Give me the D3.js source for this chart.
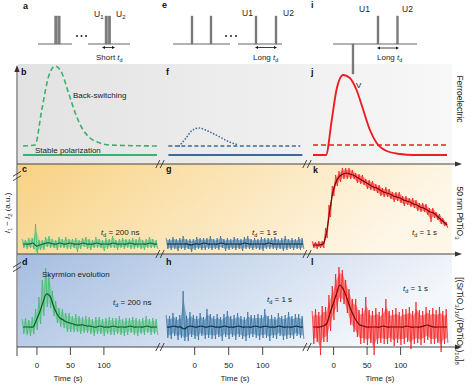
<!DOCTYPE html>
<html><head><meta charset="utf-8">
<script src="https://cdn.jsdelivr.net/npm/d3@7"></script>
<style>body{margin:0;background:#fff;} svg{display:block;font-family:"Liberation Sans",Arial,sans-serif;}</style>
</head><body><svg id="c" width="474" height="384"></svg>
<script>
// ---------- DATA ----------
const tickValues = [0, 50, 100];
const tickLabels = ["0", "50", "100"];
const rowLabels = ["Ferroelectric", "50 nm PbTiO3", "[(SrTiO3)16/(PbTiO3)16]8"];

// row 1 schematic curves
const bDashT = [-20, -2, 8, 18, 28, 38, 48, 58, 68, 80, 95, 110, 180];
const bDashV = [18, 19, 54, 87, 98, 91, 71, 51, 36, 26, 21, 19, 18];
const bSolidT = [-20, 180];
const bSolidV = [9, 9];
const fDashT = [-38, 156];
const fDashV = [18, 18];
const fSolidT = [-38, 159];
const fSolidV = [9, 9];
const fDotT = [-22, -12, -4, 7, 20, 35, 52, 66];
const fDotV = [18, 26, 33, 36, 33, 28, 22, 19];
const jT = [-30, -10.6, -2, 5, 15, 25, 35, 45, 55, 65, 80, 100, 119, 170];
const jV = [9, 9, 44, 74, 89, 86, 74, 54, 34, 21, 13, 10, 9, 9];
const jDashT = [-30, 170];
const jDashV = [19, 19];

// time grids
const time1 = [-20,-15,-10,-5,0,5,10,15,20,25,30,35,40,45,50,55,60,65,70,75,80,85,90,95,100,105,110,115,120,125,130,135,140,145,150,155,160,165,170,175,180];
const time2 = [-40,-35,-30,-25,-20,-15,-10,-5,0,5,10,15,20,25,30,35,40,45,50,55,60,65,70,75,80,85,90,95,100,105,110,115,120,125,130,135,140,145,150,155,160];
const time3 = [-30,-25,-20,-15,-10,-5,0,5,10,15,20,25,30,35,40,45,50,55,60,65,70,75,80,85,90,95,100,105,110,115,120,125,130,135,140,145,150,155,160,165,170];

// row 2 (50 nm PbTiO3)
const cMean = [10,10,10,11,8,9,10,11,11,10, 10,11,10,10,11,10,10,10,11,10, 10,10,11,10,10,10,10,11,10,10, 10,10,11,10,10,10,10,10,11,10, 10];
const cUp   = [5,4,6,5,22,5,4,6,7,5, 4,6,5,7,4,5,6,4,5,7, 5,4,6,5,4,6,5,7,4,5, 6,5,4,6,5,7,4,5,6,5, 4];
const cDn   = [4,5,4,6,9,5,6,4,5,4, 6,5,4,5,6,4,8,5,4,5, 6,4,5,4,7,5,4,5,6,4, 5,4,6,5,4,5,6,4,5,4, 5];
const gMean = [10,10,10,10,10,10,10,9,10,10, 10,11,10,10,10,10,11,10,10,10, 10,10,10,11,10,10,10,10,10,10, 11,10,10,10,10,10,10,10,10,10, 10];
const gUp   = [6,5,7,5,6,8,5,6,5,7, 6,5,6,8,5,6,7,5,6,5, 7,6,5,6,8,5,6,5,7,6, 5,6,7,5,6,8,5,6,5,7, 6];
const gDn   = [5,6,5,7,5,6,5,7,6,5, 6,7,5,6,5,6,5,7,6,5, 6,5,7,6,5,6,5,6,7,5, 6,5,6,5,7,6,5,6,5,6, 5];
const kMean = [9,9,9,10,21,43,63,73,78,80, 81,80,79,77,75,73,71,69,67,66, 64,62,61,60,58,57,56,54,53,52, 50,49,47,46,44,42,41,38,35,32, 29];
const kUp   = [4,3,4,3,5,6,5,6,5,6, 5,6,5,4,5,6,4,5,6,4, 5,4,6,5,4,5,6,4,5,4, 6,5,4,5,6,4,5,4,5,4, 3];
const kDn   = [3,4,3,4,5,6,5,5,6,5, 6,5,4,6,5,4,6,5,4,5, 6,5,4,5,6,4,5,6,4,5, 4,6,5,4,5,10,5,4,5,4, 3];

// row 3 (superlattice, skyrmion)
const dMean = [20,20,20,20,27,35,45,53,51,42, 34,29,27,25,24,23,22,22,22,21, 21,20,20,21,20,20,20,21,20,20, 20,20,21,20,20,20,20,21,20,20, 20];
const dUp   = [8,9,7,10,11,15,22,26,22,14, 12,10,11,9,10,8,11,9,8,10, 9,8,10,9,8,9,10,8,9,11, 8,9,8,10,9,8,9,10,8,9, 8];
const dDn   = [7,8,9,7,10,12,14,13,12,11, 10,9,8,10,9,8,7,9,8,7, 8,9,7,8,9,7,8,9,7,8, 9,8,7,8,9,7,8,7,8,7, 8];
const hMean = [20,20,21,20,20,18,20,21,20,20, 21,20,20,21,20,20,20,21,20,20, 20,21,20,20,20,20,21,20,20,21, 20,20,20,21,20,20,20,20,21,20, 20];
const hUp   = [12,11,13,10,12,38,11,14,12,11, 13,10,18,12,11,13,10,12,16,11, 12,13,11,10,15,12,11,13,12,17, 11,12,10,13,11,12,15,11,12,13, 11];
const hDn   = [11,12,10,13,11,12,14,11,12,13, 10,12,11,13,12,10,14,11,12,10, 13,11,12,14,11,10,12,13,11,12, 14,11,12,10,13,12,11,12,10,11, 12];
const lMean = [20,20,20,21,23,33,43,53,62,58, 50,40,32,26,22,21,20,20,20,20, 20,21,20,20,20,20,20,20,21,20, 20,20,20,21,22,21,20,20,20,20, 20];
const lUp   = [16,18,15,20,17,19,18,20,18,19, 17,18,16,22,15,18,30,17,16,19, 15,18,28,16,17,19,15,18,17,20, 16,25,17,15,18,16,19,17,20,16, 18];
const lDn   = [17,15,28,16,18,17,16,18,17,15, 16,18,17,16,19,17,18,16,28,17, 16,18,17,15,19,16,18,17,16,22, 17,16,18,17,15,18,17,16,25,17, 16];

// ---------- DRAW ----------
const svg = d3.select("#c");
const defs = svg.append("defs");
function grad(id, c0, c1, x2, y2) {
  const g = defs.append("linearGradient").attr("id", id).attr("x1", 0).attr("y1", 0).attr("x2", x2).attr("y2", y2);
  g.append("stop").attr("offset", "0%").attr("stop-color", c0);
  g.append("stop").attr("offset", "100%").attr("stop-color", c1);
}
grad("g1", "#e2e2e2", "#f8f8f8", 1, 0);
grad("g2", "#f8d283", "#fef7e8", 1, 0.25);
grad("g3", "#a4bde0", "#f4f7fb", 1, 0.3);

const xScales = [
  d3.scaleLinear().domain([-20, 180]).range([23, 157]),
  d3.scaleLinear().domain([-40, 160]).range([167, 303]),
  d3.scaleLinear().domain([-30, 170]).range([313, 447])
];
const yScales = [
  d3.scaleLinear().domain([0, 100]).range([164, 64]),
  d3.scaleLinear().domain([0, 90]).range([254, 164]),
  d3.scaleLinear().domain([0, 91]).range([347, 256])
];
const rows = [[64, 164, "g1"], [164, 254, "g2"], [254, 347, "g3"]];
rows.forEach(r => svg.append("rect").attr("x", 18).attr("y", r[0]).attr("width", 434).attr("height", r[1] - r[0]).attr("fill", `url(#${r[2]})`));

const ink = "#333";
// axes lines
[164, 254, 347].forEach(y => {
  svg.append("line").attr("x1", 17).attr("x2", 456).attr("y1", y).attr("y2", y).attr("stroke", ink).attr("stroke-width", 0.9);
  svg.append("path").attr("d", `M455,${y-2.6}L462,${y}L455,${y+2.6}Z`).attr("fill", ink);
  [160, 307].forEach(bx => {
    [-2.2, 2.2].forEach(o => svg.append("line").attr("x1", bx + o - 2).attr("y1", y + 4).attr("x2", bx + o + 2).attr("y2", y - 4).attr("stroke", ink).attr("stroke-width", 0.9));
  });
});
svg.append("line").attr("x1", 17).attr("x2", 17).attr("y1", 356).attr("y2", 71).attr("stroke", ink).attr("stroke-width", 0.9);
svg.append("path").attr("d", "M14.4,72L17,65L19.6,72Z").attr("fill", ink);
[176, 267].forEach(by => {
  [-2.2, 2.2].forEach(o => svg.append("line").attr("x1", 13).attr("y1", by + o + 2.5).attr("x2", 21).attr("y2", by + o - 2.5).attr("stroke", ink).attr("stroke-width", 0.9));
});

// bottom tick axes
xScales.forEach(x => {
  const ax = svg.append("g").attr("transform", "translate(0,347)")
    .call(d3.axisBottom(x).tickValues(tickValues).tickFormat((d, i) => tickLabels[i]).tickSize(8).tickPadding(7));
  ax.select(".domain").remove();
  ax.selectAll("line").attr("stroke", ink).attr("stroke-width", 0.9);
  ax.selectAll("text").attr("font-size", 8).attr("fill", "#222").attr("font-family", "Liberation Sans, Arial, sans-serif");
});
[68, 235, 380].forEach(cx => svg.append("text").attr("x", cx).attr("y", 381).attr("text-anchor", "middle").attr("font-size", 8).attr("fill", "#222").text("Time (s)"));

// row 1 schematic lines
function simple(ci, t, v, color, w, dash, curve, cap) {
  const x = xScales[ci], y = yScales[0];
  const line = d3.line().x((d, i) => x(t[i])).y((d, i) => y(v[i])).curve(curve || d3.curveLinear);
  svg.append("path").attr("d", line(t)).attr("fill", "none").attr("stroke", color).attr("stroke-width", w)
    .attr("stroke-dasharray", dash || null).attr("stroke-linecap", cap || "butt").attr("stroke-linejoin", "round");
}
const green = "#3eae72", blue = "#3a6b94", red = "#ee1d24";
simple(0, bSolidT, bSolidV, green, 2);
simple(0, bDashT, bDashV, green, 1.6, "5,3", d3.curveMonotoneX);
simple(1, fSolidT, fSolidV, blue, 2.2);
simple(1, fDashT, fDashV, blue, 1.6, "4,2.5");
simple(1, fDotT, fDotV, blue, 1.7, "0.1,3", d3.curveMonotoneX, "round");
simple(2, jDashT, jDashV, red, 1.6, "5,3");
simple(2, jT, jV, red, 1.9, null, d3.curveMonotoneX);

// noisy traces
function noisy(ci, ri, t, m, up, dn, cArea, cRaw, cMean) {
  const x = xScales[ci], y = yScales[ri];
  const area = d3.area().x((d, i) => x(t[i])).y0((d, i) => y(m[i] - dn[i] * 0.7)).y1((d, i) => y(m[i] + up[i] * 0.7));
  svg.append("path").attr("d", area(t)).attr("fill", cArea).attr("opacity", 0.75);
  const pts = [];
  t.forEach((ti, i) => {
    pts.push([x(ti - 1.25), y(m[i] + up[i])]);
    pts.push([x(ti + 1.25), y(m[i] - dn[i])]);
  });
  svg.append("path").attr("d", d3.line()(pts)).attr("fill", "none").attr("stroke", cRaw).attr("stroke-width", 0.7);
  const ml = d3.line().x((d, i) => x(t[i])).y((d, i) => y(m[i])).curve(d3.curveCatmullRom);
  svg.append("path").attr("d", ml(t)).attr("fill", "none").attr("stroke", cMean).attr("stroke-width", 1.2);
}
noisy(0, 1, time1, cMean, cUp, cDn, "#7fd3a0", "#3bb56c", "#0f5a30");
noisy(1, 1, time2, gMean, gUp, gDn, "#6f9cc3", "#2d6a9a", "#0b2940");
noisy(2, 1, time3, kMean, kUp, kDn, "#ff6d6d", "#f01010", "#7a0505");
noisy(0, 2, time1, dMean, dUp, dDn, "#7fd3a0", "#3bb56c", "#0f5a30");
noisy(1, 2, time2, hMean, hUp, hDn, "#6f9cc3", "#2d6a9a", "#0b2940");
noisy(2, 2, time3, lMean, lUp, lDn, "#ff6d6d", "#f01010", "#7a0505");

// text helpers
function txt(x, y, s, size, opts) {
  opts = opts || {};
  return svg.append("text").attr("x", x).attr("y", y).attr("font-size", size).attr("fill", opts.fill || "#222")
    .attr("font-weight", opts.bold ? "bold" : null).attr("text-anchor", opts.anchor || "start").text(s);
}
function tdText(x, y, rest) {
  const t = svg.append("text").attr("x", x).attr("y", y).attr("font-size", 8).attr("fill", "#222");
  t.append("tspan").attr("font-style", "italic").text("t");
  t.append("tspan").attr("font-size", 5.5).attr("dy", 2).text("d");
  t.append("tspan").attr("dy", -2).text(rest);
  return t;
}
// panel letters
[["a",23,9],["e",162,8],["i",311,8],["b",21,75],["f",166,75],["j",311,75],["c",22,172],["g",166,172],["k",313,173],["d",22,265],["h",166,265],["l",311,265]]
  .forEach(p => txt(p[1], p[2], p[0], 9, {bold: true, fill: "#111"}));

txt(73, 98, "Back-switching", 8);
txt(35, 153, "Stable polarization", 8);
txt(356, 88, "V", 8);
txt(42, 277, "Skyrmion evolution", 8);
tdText(101, 235, " = 200 ns");
tdText(252, 235, " = 1 s");
tdText(412, 235, " = 1 s");
tdText(113, 305, " = 200 ns");
tdText(267, 302, " = 1 s");
tdText(403, 291, " = 1 s");

// right labels (rotated)
function rotLabel(cx, cy, parts) {
  const t = svg.append("text").attr("transform", `translate(${cx},${cy}) rotate(90)`).attr("text-anchor", "middle").attr("font-size", 8.5).attr("fill", "#222");
  parts.forEach(p => {
    const s = t.append("tspan").text(p[0]);
    if (p[1] === "sub") s.attr("font-size", 6).attr("dy", 2);
    if (p[1] === "up") s.attr("dy", -2);
  });
}
rotLabel(457, 99, [[rowLabels[0]]]);
rotLabel(457, 213, [["50 nm PbTiO"], ["3", "sub"]]);
rotLabel(457, 321, [["[(SrTiO"], ["3", "sub"], [")", "up"], ["16", "sub"], ["/(PbTiO", "up"], ["3", "sub"], [")", "up"], ["16", "sub"], ["]", "up"], ["8", "sub"]]);

// left axis label
const yl = svg.append("text").attr("transform", "translate(10,213) rotate(-90)").attr("text-anchor", "middle").attr("font-size", 8).attr("fill", "#222");
yl.append("tspan").attr("font-style", "italic").text("I");
yl.append("tspan").attr("font-size", 5.5).attr("dy", 2).text("1");
yl.append("tspan").attr("dy", -2).text(" \u2212 ");
yl.append("tspan").attr("font-style", "italic").text("I");
yl.append("tspan").attr("font-size", 5.5).attr("dy", 2).text("2");
yl.append("tspan").attr("dy", -2).text(" (a.u.)");

// ---------- top pulse schematics ----------
const pg = "#7d7d7d";
function hline(x1, x2, y) { svg.append("line").attr("x1", x1).attr("x2", x2).attr("y1", y).attr("y2", y).attr("stroke", "#555").attr("stroke-width", 0.9); }
function bar(x, y0, y1, w) { svg.append("rect").attr("x", x - w / 2).attr("y", Math.min(y0, y1)).attr("width", w).attr("height", Math.abs(y1 - y0)).attr("fill", pg).attr("stroke", "#666").attr("stroke-width", 0.3); }
function dots(xs, y) { xs.forEach(x => svg.append("circle").attr("cx", x).attr("cy", y).attr("r", 1).attr("fill", "#222")); }
function arrow(x1, x2, y) {
  svg.append("line").attr("x1", x1 + 2).attr("x2", x2 - 2).attr("y1", y).attr("y2", y).attr("stroke", "#111").attr("stroke-width", 0.8);
  svg.append("path").attr("d", `M${x1},${y}L${x1+3},${y-1.6}L${x1+3},${y+1.6}Z M${x2},${y}L${x2-3},${y-1.6}L${x2-3},${y+1.6}Z`).attr("fill", "#111");
}
function ulabel(x, y, n, sub) {
  const t = svg.append("text").attr("x", x).attr("y", y).attr("font-size", 8.5).attr("fill", "#222");
  t.append("tspan").text("U");
  const s = t.append("tspan").text(n);
  if (sub) s.attr("font-size", 6).attr("dy", 2);
}
// a
hline(38, 72, 44); hline(88, 130, 44);
bar(55.8, 16, 44, 2.6); bar(59, 16, 44, 2.6);
bar(106.3, 16, 44, 2.6); bar(109.5, 16, 44, 2.6);
dots([77, 81.5, 86], 36);
ulabel(94, 17, "1", true); ulabel(116, 17, "2", true);
arrow(102, 115, 47.5);
tdText(96, 60, "").remove();
(function(){ const t = svg.append("text").attr("x", 96).attr("y", 60).attr("font-size", 8).attr("fill", "#222");
  t.append("tspan").text("Short "); t.append("tspan").attr("font-style", "italic").text("t"); t.append("tspan").attr("font-size", 5.5).attr("dy", 2).text("d"); })();
// e
hline(173, 230, 44); hline(238, 282, 44);
bar(192, 16, 44, 2); bar(211, 16, 44, 2); bar(256, 16, 44, 2); bar(276, 16, 44, 2);
dots([226, 231, 236], 36);
ulabel(242, 16, "1", false); ulabel(283, 16, "2", false);
arrow(255, 277, 47.5);
(function(){ const t = svg.append("text").attr("x", 253).attr("y", 60).attr("font-size", 8).attr("fill", "#222");
  t.append("tspan").text("Long "); t.append("tspan").attr("font-style", "italic").text("t"); t.append("tspan").attr("font-size", 5.5).attr("dy", 2).text("d"); })();
// i
hline(333, 417, 44);
bar(353, 44, 74, 2); bar(378, 16, 44, 2); bar(397.5, 16, 44, 2);
ulabel(359, 12, "1", false); ulabel(402, 12, "2", false);
arrow(377, 399, 48);
(function(){ const t = svg.append("text").attr("x", 377).attr("y", 60).attr("font-size", 8).attr("fill", "#222");
  t.append("tspan").text("Long "); t.append("tspan").attr("font-style", "italic").text("t"); t.append("tspan").attr("font-size", 5.5).attr("dy", 2).text("d"); })();
</script>
</body></html>
